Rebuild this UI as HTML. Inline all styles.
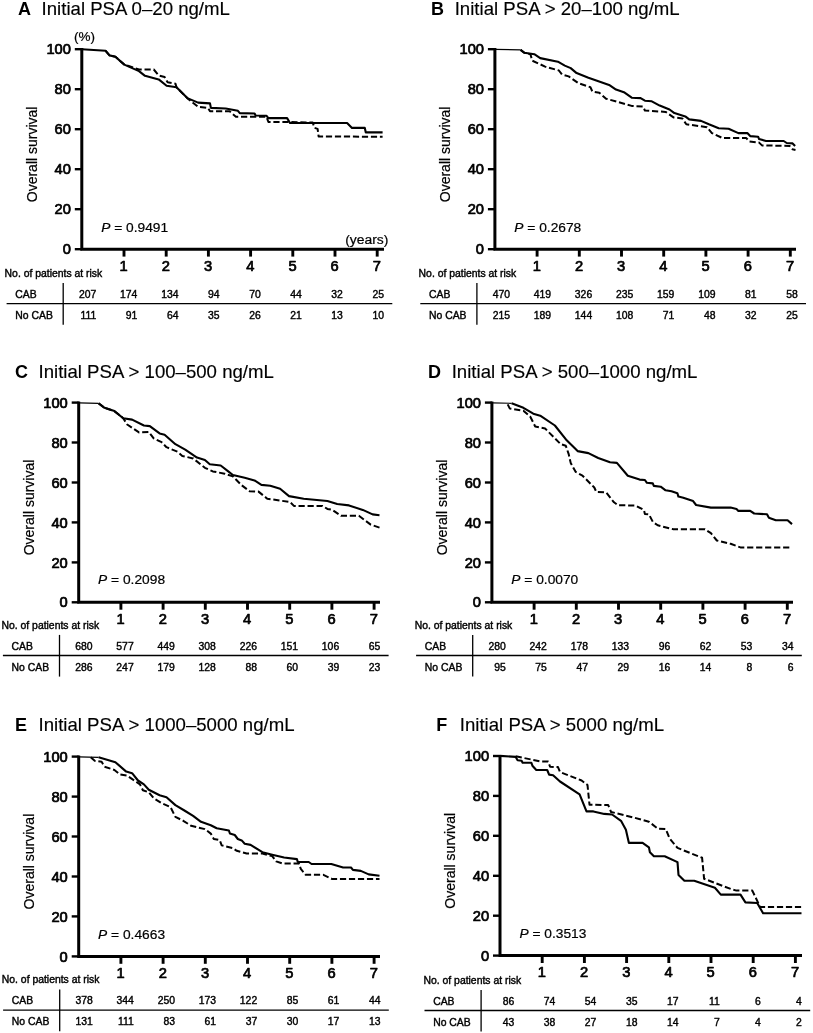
<!DOCTYPE html>
<html lang="en"><head><meta charset="utf-8"><title>Overall survival by initial PSA</title>
<style>html,body{margin:0;padding:0;background:#fff}svg{display:block}text{font-family:"Liberation Sans",Arial,Helvetica,sans-serif;fill:#000}.t{font-size:18px;stroke:#000;stroke-width:.15px}.tb{font-size:18px;font-weight:bold}.k{font-size:14px;stroke:#000;stroke-width:.7px;stroke-linejoin:round}.r{font-size:13.5px;stroke:#000;stroke-width:.2px}.s{font-size:10.4px;stroke:#000;stroke-width:.4px}.ax{stroke:#000;stroke-width:3;fill:none;stroke-linecap:butt}.tk{stroke:#000;stroke-width:2.4;fill:none}.tx{stroke:#000;stroke-width:2.9;fill:none}.ln{stroke:#000;stroke-width:1.3;fill:none}.cs{stroke:#000;stroke-width:2.1;fill:none;stroke-linejoin:round}.cd{stroke:#000;stroke-width:2;fill:none;stroke-dasharray:6.2 2.8;stroke-linejoin:round}</style></head><body>
<svg width="813" height="1033" viewBox="0 0 813 1033">
<rect width="813" height="1033" fill="#fff"/>
<g>
<text class="tb" x="18" y="15.2">A</text>
<text class="t" transform="translate(41.6 15.2) scale(1.035 1)">Initial PSA 0–20 ng/mL</text>
<path class="ax" d="M81.8 48.1V249.2H384"/>
<path class="tk" d="M74.8 249.2H81.8"/>
<text class="k" text-anchor="end" transform="translate(70.9 254.3) scale(1.05 1)">0</text>
<path class="tk" d="M74.8 209.2H81.8"/>
<text class="k" text-anchor="end" transform="translate(70.9 214.3) scale(1.05 1)">20</text>
<path class="tk" d="M74.8 169.2H81.8"/>
<text class="k" text-anchor="end" transform="translate(70.9 174.3) scale(1.05 1)">40</text>
<path class="tk" d="M74.8 129.2H81.8"/>
<text class="k" text-anchor="end" transform="translate(70.9 134.3) scale(1.05 1)">60</text>
<path class="tk" d="M74.8 89.2H81.8"/>
<text class="k" text-anchor="end" transform="translate(70.9 94.3) scale(1.05 1)">80</text>
<path class="tk" d="M74.8 49.2H81.8"/>
<text class="k" text-anchor="end" transform="translate(70.9 54.3) scale(1.05 1)">100</text>
<path class="tx" d="M124 249.2V256.6"/>
<text class="k" text-anchor="middle" transform="translate(123.7 271.4) scale(1.05 1)">1</text>
<path class="tx" d="M166.2 249.2V256.6"/>
<text class="k" text-anchor="middle" transform="translate(165.9 271.4) scale(1.05 1)">2</text>
<path class="tx" d="M208.4 249.2V256.6"/>
<text class="k" text-anchor="middle" transform="translate(208.1 271.4) scale(1.05 1)">3</text>
<path class="tx" d="M250.6 249.2V256.6"/>
<text class="k" text-anchor="middle" transform="translate(250.3 271.4) scale(1.05 1)">4</text>
<path class="tx" d="M292.8 249.2V256.6"/>
<text class="k" text-anchor="middle" transform="translate(292.5 271.4) scale(1.05 1)">5</text>
<path class="tx" d="M335 249.2V256.6"/>
<text class="k" text-anchor="middle" transform="translate(334.7 271.4) scale(1.05 1)">6</text>
<path class="tx" d="M377.2 249.2V256.6"/>
<text class="k" text-anchor="middle" transform="translate(376.9 271.4) scale(1.05 1)">7</text>
<text class="r" style="font-size:14px" text-anchor="middle" transform="translate(36.9 154.4) rotate(-90)">Overall survival</text>
<text class="r" transform="translate(101.2 232) scale(1.02 1)"><tspan font-style="italic">P</tspan> = 0.9491</text>
<text class="r" text-anchor="middle" x="84.5" y="40.8">(%)</text>
<text class="r" text-anchor="end" transform="translate(388.4 244.1) scale(1.03 1)">(years)</text>
<path class="cd" d="M105.6 50.8 109.5 55.4 115.4 56.7 124.3 64.6 139 69.5 153.8 69.5 158.7 75.4 164.6 77 167.6 82.3 175.5 83.7 176.5 87.2 187.3 98.1 198.1 106.9 208 107.9 210 111.3 229.6 111.3 235.9 116.7 266.4 116.7 268.4 122 289 122 312.7 122.6 314.6 127.9 317.6 128.9 318.6 136.4 382.6 136.8"/>
<path class="cs" d="M81.8 49.3 105.6 50.8 109.5 55.4 115.4 56.7 124.3 64.6 139 71.1 145 75.8 158.7 79.4 166.6 85.7 176.5 87.2 187.3 98.1 198.1 102.6 210 103.4 210.9 107.9 225.7 108.5 237.9 110.8 239.8 113.1 254.6 113.5 255.6 115.5 266.4 115.7 268.4 118.1 287.1 118.1 290 123 347.1 123 352 127.9 364.8 127.9 365.8 132.4 382.6 132.4"/>
<text class="s" x="4.6" y="276.7">No. of patients at risk</text>
<text class="s" x="15.3" y="297.7">CAB</text>
<text class="s" x="15.3" y="318.6">No CAB</text>
<path class="ln" d="M6.6 303.6H392.3"/>
<path class="ln" d="M63.2 283V324.7"/>
<text class="s" text-anchor="end" x="96.3" y="297.7">207</text>
<text class="s" text-anchor="end" x="96.3" y="318.6">111</text>
<text class="s" text-anchor="end" x="137.4" y="297.7">174</text>
<text class="s" text-anchor="end" x="137.4" y="318.6">91</text>
<text class="s" text-anchor="end" x="178.5" y="297.7">134</text>
<text class="s" text-anchor="end" x="178.5" y="318.6">64</text>
<text class="s" text-anchor="end" x="219.6" y="297.7">94</text>
<text class="s" text-anchor="end" x="219.6" y="318.6">35</text>
<text class="s" text-anchor="end" x="260.7" y="297.7">70</text>
<text class="s" text-anchor="end" x="260.7" y="318.6">26</text>
<text class="s" text-anchor="end" x="301.8" y="297.7">44</text>
<text class="s" text-anchor="end" x="301.8" y="318.6">21</text>
<text class="s" text-anchor="end" x="342.9" y="297.7">32</text>
<text class="s" text-anchor="end" x="342.9" y="318.6">13</text>
<text class="s" text-anchor="end" x="384" y="297.7">25</text>
<text class="s" text-anchor="end" x="384" y="318.6">10</text>
</g>
<g>
<text class="tb" x="431.1" y="15.2">B</text>
<text class="t" transform="translate(454.7 15.2) scale(1.035 1)">Initial PSA &gt; 20–100 ng/mL</text>
<path class="ax" d="M494.9 48.1V249.2H796"/>
<path class="tk" d="M487.9 249.2H494.9"/>
<text class="k" text-anchor="end" transform="translate(484 254.3) scale(1.05 1)">0</text>
<path class="tk" d="M487.9 209.2H494.9"/>
<text class="k" text-anchor="end" transform="translate(484 214.3) scale(1.05 1)">20</text>
<path class="tk" d="M487.9 169.2H494.9"/>
<text class="k" text-anchor="end" transform="translate(484 174.3) scale(1.05 1)">40</text>
<path class="tk" d="M487.9 129.2H494.9"/>
<text class="k" text-anchor="end" transform="translate(484 134.3) scale(1.05 1)">60</text>
<path class="tk" d="M487.9 89.2H494.9"/>
<text class="k" text-anchor="end" transform="translate(484 94.3) scale(1.05 1)">80</text>
<path class="tk" d="M487.9 49.2H494.9"/>
<text class="k" text-anchor="end" transform="translate(484 54.3) scale(1.05 1)">100</text>
<path class="tx" d="M537.1 249.2V256.6"/>
<text class="k" text-anchor="middle" transform="translate(536.8 271.4) scale(1.05 1)">1</text>
<path class="tx" d="M579.3 249.2V256.6"/>
<text class="k" text-anchor="middle" transform="translate(579 271.4) scale(1.05 1)">2</text>
<path class="tx" d="M621.5 249.2V256.6"/>
<text class="k" text-anchor="middle" transform="translate(621.2 271.4) scale(1.05 1)">3</text>
<path class="tx" d="M663.7 249.2V256.6"/>
<text class="k" text-anchor="middle" transform="translate(663.4 271.4) scale(1.05 1)">4</text>
<path class="tx" d="M705.9 249.2V256.6"/>
<text class="k" text-anchor="middle" transform="translate(705.6 271.4) scale(1.05 1)">5</text>
<path class="tx" d="M748.1 249.2V256.6"/>
<text class="k" text-anchor="middle" transform="translate(747.8 271.4) scale(1.05 1)">6</text>
<path class="tx" d="M790.3 249.2V256.6"/>
<text class="k" text-anchor="middle" transform="translate(790 271.4) scale(1.05 1)">7</text>
<text class="r" style="font-size:14px" text-anchor="middle" transform="translate(450 154.4) rotate(-90)">Overall survival</text>
<text class="r" transform="translate(514.3 232) scale(1.02 1)"><tspan font-style="italic">P</tspan> = 0.2678</text>
<path class="cd" d="M520.5 49.8 524.4 52.8 530.4 54.2 532.3 60.7 545.1 66.6 558.9 70.5 561.9 74.4 568.7 76.4 578.6 83.3 590.4 87.2 592.4 91.6 599.3 92.8 606.1 98.7 618 102 631.7 105.9 643 106.6 644.9 110.5 665.6 111.9 673.5 117.4 682.3 118.4 686.3 124.3 706.9 127.2 711.9 133.1 722.7 138.1 746.3 138.1 749.3 141.4 759.1 142.6 762 145.4 789.6 145.9 792.6 149.3 795.5 149.9"/>
<path class="cs" style="stroke-width:1.2" d="M494.9 49.3L520.5 49.8"/>
<path class="cs" d="M520.5 49.8 524.4 52.8 534.3 54.2 540.2 58.1 557.9 61.7 564.8 65.6 570.7 68.1 576.6 73.1 588.4 77.8 596.3 80.4 609.1 84.9 616 89.6 623.9 92.2 631.7 97.7 640.6 98.1 644.9 100.7 651.8 101.3 659.7 105.6 669.5 109.5 674.4 113.1 685.3 116.4 689.2 119.4 701 120.9 708.9 124.3 718.7 128.2 728.6 128.8 738.4 133.1 747.3 133.1 750.2 136.1 758.1 136.7 759.1 139.1 766 141 783.7 141 786.7 143 792.6 143.4 795.1 146"/>
<text class="s" x="418.6" y="276.7">No. of patients at risk</text>
<text class="s" x="429" y="297.7">CAB</text>
<text class="s" x="429" y="318.6">No CAB</text>
<path class="ln" d="M420.3 303.6H806"/>
<path class="ln" d="M476.9 283V324.7"/>
<text class="s" text-anchor="end" x="510" y="297.7">470</text>
<text class="s" text-anchor="end" x="510" y="318.6">215</text>
<text class="s" text-anchor="end" x="551.1" y="297.7">419</text>
<text class="s" text-anchor="end" x="551.1" y="318.6">189</text>
<text class="s" text-anchor="end" x="592.2" y="297.7">326</text>
<text class="s" text-anchor="end" x="592.2" y="318.6">144</text>
<text class="s" text-anchor="end" x="633.3" y="297.7">235</text>
<text class="s" text-anchor="end" x="633.3" y="318.6">108</text>
<text class="s" text-anchor="end" x="674.4" y="297.7">159</text>
<text class="s" text-anchor="end" x="674.4" y="318.6">71</text>
<text class="s" text-anchor="end" x="715.5" y="297.7">109</text>
<text class="s" text-anchor="end" x="715.5" y="318.6">48</text>
<text class="s" text-anchor="end" x="756.6" y="297.7">81</text>
<text class="s" text-anchor="end" x="756.6" y="318.6">32</text>
<text class="s" text-anchor="end" x="797.7" y="297.7">58</text>
<text class="s" text-anchor="end" x="797.7" y="318.6">25</text>
</g>
<g>
<text class="tb" x="14.9" y="378">C</text>
<text class="t" transform="translate(38.5 378) scale(1.035 1)">Initial PSA &gt; 100–500 ng/mL</text>
<path class="ax" d="M78.7 401.5V602.3H380"/>
<path class="tk" d="M71.7 602.3H78.7"/>
<text class="k" text-anchor="end" transform="translate(67.8 607.4) scale(1.05 1)">0</text>
<path class="tk" d="M71.7 562.4H78.7"/>
<text class="k" text-anchor="end" transform="translate(67.8 567.5) scale(1.05 1)">20</text>
<path class="tk" d="M71.7 522.4H78.7"/>
<text class="k" text-anchor="end" transform="translate(67.8 527.5) scale(1.05 1)">40</text>
<path class="tk" d="M71.7 482.5H78.7"/>
<text class="k" text-anchor="end" transform="translate(67.8 487.6) scale(1.05 1)">60</text>
<path class="tk" d="M71.7 442.5H78.7"/>
<text class="k" text-anchor="end" transform="translate(67.8 447.6) scale(1.05 1)">80</text>
<path class="tk" d="M71.7 402.6H78.7"/>
<text class="k" text-anchor="end" transform="translate(67.8 407.7) scale(1.05 1)">100</text>
<path class="tx" d="M120.9 602.3V609.7"/>
<text class="k" text-anchor="middle" transform="translate(120.6 623.5) scale(1.05 1)">1</text>
<path class="tx" d="M163.1 602.3V609.7"/>
<text class="k" text-anchor="middle" transform="translate(162.8 623.5) scale(1.05 1)">2</text>
<path class="tx" d="M205.3 602.3V609.7"/>
<text class="k" text-anchor="middle" transform="translate(205 623.5) scale(1.05 1)">3</text>
<path class="tx" d="M247.5 602.3V609.7"/>
<text class="k" text-anchor="middle" transform="translate(247.2 623.5) scale(1.05 1)">4</text>
<path class="tx" d="M289.7 602.3V609.7"/>
<text class="k" text-anchor="middle" transform="translate(289.4 623.5) scale(1.05 1)">5</text>
<path class="tx" d="M331.9 602.3V609.7"/>
<text class="k" text-anchor="middle" transform="translate(331.6 623.5) scale(1.05 1)">6</text>
<path class="tx" d="M374.1 602.3V609.7"/>
<text class="k" text-anchor="middle" transform="translate(373.8 623.5) scale(1.05 1)">7</text>
<text class="r" style="font-size:14px" text-anchor="middle" transform="translate(33.8 507.5) rotate(-90)">Overall survival</text>
<text class="r" transform="translate(98.1 583.9) scale(1.02 1)"><tspan font-style="italic">P</tspan> = 0.2098</text>
<path class="cd" d="M98.6 403.3 104.5 407.8 114.4 411.1 123.2 418.2 127.2 424.5 139 432.4 148.8 432 153.7 438.3 161.6 442.2 166.5 447.2 177.4 451.7 182.3 456 193.1 458.4 204.9 467.8 212.8 471.4 224.6 473.7 232.9 476.4 241.7 485.3 249.6 491.2 258.5 491.6 267.3 498.7 290 502 293.9 505.9 322.4 505.9 327.4 508.9 332.3 509.9 341.1 515.8 358.9 515.8 370.7 524.6 379.5 527.6"/>
<path class="cs" style="stroke-width:1.2" d="M78.9 402.9L98.6 403.3"/>
<path class="cs" d="M98.6 403.3 104.5 407.8 114.4 411.1 123.2 418.2 132.1 419.6 143.9 425.5 149.8 426.1 159.6 433.4 164.6 434.8 175.4 444.2 185.2 449.7 197 457.6 204.9 460 209.8 464.3 220.7 465.5 227.6 470.8 232.9 475 244.7 477.8 254.5 480.4 261.4 484.9 270.3 485.7 280.1 488.8 289 496.1 303.7 498.7 327.4 501 337.2 504 349 505.4 362.8 509.9 372.6 514.4 379.5 515.2"/>
<text class="s" x="1.5" y="628.6">No. of patients at risk</text>
<text class="s" x="11.6" y="649.6">CAB</text>
<text class="s" x="11.6" y="670.5">No CAB</text>
<path class="ln" d="M2.9 655.5H388.6"/>
<path class="ln" d="M59.5 634.9V676.6"/>
<text class="s" text-anchor="end" x="92.6" y="649.6">680</text>
<text class="s" text-anchor="end" x="92.6" y="670.5">286</text>
<text class="s" text-anchor="end" x="133.7" y="649.6">577</text>
<text class="s" text-anchor="end" x="133.7" y="670.5">247</text>
<text class="s" text-anchor="end" x="174.8" y="649.6">449</text>
<text class="s" text-anchor="end" x="174.8" y="670.5">179</text>
<text class="s" text-anchor="end" x="215.9" y="649.6">308</text>
<text class="s" text-anchor="end" x="215.9" y="670.5">128</text>
<text class="s" text-anchor="end" x="257" y="649.6">226</text>
<text class="s" text-anchor="end" x="257" y="670.5">88</text>
<text class="s" text-anchor="end" x="298.1" y="649.6">151</text>
<text class="s" text-anchor="end" x="298.1" y="670.5">60</text>
<text class="s" text-anchor="end" x="339.2" y="649.6">106</text>
<text class="s" text-anchor="end" x="339.2" y="670.5">39</text>
<text class="s" text-anchor="end" x="380.3" y="649.6">65</text>
<text class="s" text-anchor="end" x="380.3" y="670.5">23</text>
</g>
<g>
<text class="tb" x="428.1" y="378">D</text>
<text class="t" transform="translate(451.7 378) scale(1.035 1)">Initial PSA &gt; 500–1000 ng/mL</text>
<path class="ax" d="M491.9 401.5V602.3H793"/>
<path class="tk" d="M484.9 602.3H491.9"/>
<text class="k" text-anchor="end" transform="translate(481 607.4) scale(1.05 1)">0</text>
<path class="tk" d="M484.9 562.4H491.9"/>
<text class="k" text-anchor="end" transform="translate(481 567.5) scale(1.05 1)">20</text>
<path class="tk" d="M484.9 522.4H491.9"/>
<text class="k" text-anchor="end" transform="translate(481 527.5) scale(1.05 1)">40</text>
<path class="tk" d="M484.9 482.5H491.9"/>
<text class="k" text-anchor="end" transform="translate(481 487.6) scale(1.05 1)">60</text>
<path class="tk" d="M484.9 442.5H491.9"/>
<text class="k" text-anchor="end" transform="translate(481 447.6) scale(1.05 1)">80</text>
<path class="tk" d="M484.9 402.6H491.9"/>
<text class="k" text-anchor="end" transform="translate(481 407.7) scale(1.05 1)">100</text>
<path class="tx" d="M534.1 602.3V609.7"/>
<text class="k" text-anchor="middle" transform="translate(533.8 623.5) scale(1.05 1)">1</text>
<path class="tx" d="M576.3 602.3V609.7"/>
<text class="k" text-anchor="middle" transform="translate(576 623.5) scale(1.05 1)">2</text>
<path class="tx" d="M618.5 602.3V609.7"/>
<text class="k" text-anchor="middle" transform="translate(618.2 623.5) scale(1.05 1)">3</text>
<path class="tx" d="M660.7 602.3V609.7"/>
<text class="k" text-anchor="middle" transform="translate(660.4 623.5) scale(1.05 1)">4</text>
<path class="tx" d="M702.9 602.3V609.7"/>
<text class="k" text-anchor="middle" transform="translate(702.6 623.5) scale(1.05 1)">5</text>
<path class="tx" d="M745.1 602.3V609.7"/>
<text class="k" text-anchor="middle" transform="translate(744.8 623.5) scale(1.05 1)">6</text>
<path class="tx" d="M787.3 602.3V609.7"/>
<text class="k" text-anchor="middle" transform="translate(787 623.5) scale(1.05 1)">7</text>
<text class="r" style="font-size:14px" text-anchor="middle" transform="translate(447 507.5) rotate(-90)">Overall survival</text>
<text class="r" transform="translate(511.3 583.9) scale(1.02 1)"><tspan font-style="italic">P</tspan> = 0.0070</text>
<path class="cd" d="M507.7 404.4 509.7 408.4 523.4 410.7 530.3 416.7 535.2 426.5 545.1 428.5 560.8 444.2 565.8 445.8 568.7 454.1 570.7 462.9 575.6 471.8 582.5 475.7 594.3 487.5 596.3 491.9 606.1 492.4 614 502.3 617.9 505.2 635.6 505.6 643.9 510 644.9 513.9 648.9 514.3 652.8 521.8 657.7 525.3 673.5 529.3 705 529.3 710.9 533.2 716.8 540.5 730.6 543.8 740.4 547.4 792 547.4"/>
<path class="cs" style="stroke-width:1.2" d="M491.9 402.9L511.6 403.3"/>
<path class="cs" d="M511.6 403.3 523.4 407.8 533.3 413.7 540.2 415.7 554.9 425.5 566.7 440.3 577.6 451.1 588.4 453.1 598.2 458 610 462.3 616.9 462.9 627.8 475.7 639.6 479.6 644.9 480 646.9 482.8 652.8 483.4 653.8 485.9 660.7 486.7 665.6 490.3 671.5 491.3 677.4 493.2 678.4 496.6 683.3 497.8 693.1 501.1 696.1 505 710.9 507.6 730.6 507.6 736.5 509 738.4 510.9 750.2 510.9 754.2 513.5 767 514.3 768.9 517.8 775.8 520.2 787.6 520.2 792 524.1"/>
<text class="s" x="414.7" y="628.6">No. of patients at risk</text>
<text class="s" x="424.8" y="649.6">CAB</text>
<text class="s" x="424.8" y="670.5">No CAB</text>
<path class="ln" d="M416.1 655.5H801.8"/>
<path class="ln" d="M472.7 634.9V676.6"/>
<text class="s" text-anchor="end" x="505.8" y="649.6">280</text>
<text class="s" text-anchor="end" x="505.8" y="670.5">95</text>
<text class="s" text-anchor="end" x="546.9" y="649.6">242</text>
<text class="s" text-anchor="end" x="546.9" y="670.5">75</text>
<text class="s" text-anchor="end" x="588" y="649.6">178</text>
<text class="s" text-anchor="end" x="588" y="670.5">47</text>
<text class="s" text-anchor="end" x="629.1" y="649.6">133</text>
<text class="s" text-anchor="end" x="629.1" y="670.5">29</text>
<text class="s" text-anchor="end" x="670.2" y="649.6">96</text>
<text class="s" text-anchor="end" x="670.2" y="670.5">16</text>
<text class="s" text-anchor="end" x="711.3" y="649.6">62</text>
<text class="s" text-anchor="end" x="711.3" y="670.5">14</text>
<text class="s" text-anchor="end" x="752.4" y="649.6">53</text>
<text class="s" text-anchor="end" x="752.4" y="670.5">8</text>
<text class="s" text-anchor="end" x="793.5" y="649.6">34</text>
<text class="s" text-anchor="end" x="793.5" y="670.5">6</text>
</g>
<g>
<text class="tb" x="14.9" y="731.1">E</text>
<text class="t" transform="translate(38.5 731.1) scale(1.035 1)">Initial PSA &gt; 1000–5000 ng/mL</text>
<path class="ax" d="M78.7 755.5V956.4H380"/>
<path class="tk" d="M71.7 956.4H78.7"/>
<text class="k" text-anchor="end" transform="translate(67.8 961.5) scale(1.05 1)">0</text>
<path class="tk" d="M71.7 916.4H78.7"/>
<text class="k" text-anchor="end" transform="translate(67.8 921.5) scale(1.05 1)">20</text>
<path class="tk" d="M71.7 876.5H78.7"/>
<text class="k" text-anchor="end" transform="translate(67.8 881.6) scale(1.05 1)">40</text>
<path class="tk" d="M71.7 836.5H78.7"/>
<text class="k" text-anchor="end" transform="translate(67.8 841.6) scale(1.05 1)">60</text>
<path class="tk" d="M71.7 796.6H78.7"/>
<text class="k" text-anchor="end" transform="translate(67.8 801.7) scale(1.05 1)">80</text>
<path class="tk" d="M71.7 756.6H78.7"/>
<text class="k" text-anchor="end" transform="translate(67.8 761.7) scale(1.05 1)">100</text>
<path class="tx" d="M120.9 956.4V963.8"/>
<text class="k" text-anchor="middle" transform="translate(120.6 978.1) scale(1.05 1)">1</text>
<path class="tx" d="M163.1 956.4V963.8"/>
<text class="k" text-anchor="middle" transform="translate(162.8 978.1) scale(1.05 1)">2</text>
<path class="tx" d="M205.3 956.4V963.8"/>
<text class="k" text-anchor="middle" transform="translate(205 978.1) scale(1.05 1)">3</text>
<path class="tx" d="M247.5 956.4V963.8"/>
<text class="k" text-anchor="middle" transform="translate(247.2 978.1) scale(1.05 1)">4</text>
<path class="tx" d="M289.7 956.4V963.8"/>
<text class="k" text-anchor="middle" transform="translate(289.4 978.1) scale(1.05 1)">5</text>
<path class="tx" d="M331.9 956.4V963.8"/>
<text class="k" text-anchor="middle" transform="translate(331.6 978.1) scale(1.05 1)">6</text>
<path class="tx" d="M374.1 956.4V963.8"/>
<text class="k" text-anchor="middle" transform="translate(373.8 978.1) scale(1.05 1)">7</text>
<text class="r" style="font-size:14px" text-anchor="middle" transform="translate(33.8 861.6) rotate(-90)">Overall survival</text>
<text class="r" transform="translate(98.1 938.5) scale(1.02 1)"><tspan font-style="italic">P</tspan> = 0.4663</text>
<path class="cd" d="M90.7 757.3 94.7 760.8 101.6 761.8 104.5 766.7 114.4 770 120.3 774.6 127.2 775.6 140 784.4 142.9 790.3 148.8 792.3 153.7 798.2 161.6 803.1 170.5 807.1 175.4 816.9 183.3 820.8 191.1 825.8 204.9 829.1 210.8 833.6 213.8 838.9 219.7 840.1 221.7 845.4 232.5 848 236.8 850.8 246.7 853.5 262.4 853.5 272.2 856.1 276.2 861.4 282.1 863.4 298.8 863.4 300.8 868.9 305.7 874.8 323.4 874.8 332.3 879.1 379.5 879.1"/>
<path class="cs" style="stroke-width:1.2" d="M78.9 756.9L98.6 757.3"/>
<path class="cs" d="M98.6 757.3 115.4 762.2 126.2 771.6 132.1 773.2 138 780.5 143.9 784.4 148.8 789.7 159.6 795.2 166.5 797.2 175.4 805.1 185.2 811 193.1 815.9 201 821.8 210.8 825.2 216.7 828.3 228.9 830.5 229.9 833.5 234.8 835 237.8 839 241.7 840.4 244.7 843.7 250.6 844.9 262.4 852.2 272.2 854.7 284.1 857.5 296.9 859.1 297.8 862 308.7 862 311.6 864 331.3 864 343.1 867.5 351 867.5 352.9 869.9 360.8 870.9 368.7 874.4 379.5 875.8"/>
<text class="s" x="1.8" y="983.3">No. of patients at risk</text>
<text class="s" x="11.8" y="1004.3">CAB</text>
<text class="s" x="11.8" y="1025.2">No CAB</text>
<path class="ln" d="M3.1 1010.2H388.8"/>
<path class="ln" d="M59.7 989.6V1031.3"/>
<text class="s" text-anchor="end" x="92.8" y="1004.3">378</text>
<text class="s" text-anchor="end" x="92.8" y="1025.2">131</text>
<text class="s" text-anchor="end" x="133.9" y="1004.3">344</text>
<text class="s" text-anchor="end" x="133.9" y="1025.2">111</text>
<text class="s" text-anchor="end" x="175" y="1004.3">250</text>
<text class="s" text-anchor="end" x="175" y="1025.2">83</text>
<text class="s" text-anchor="end" x="216.1" y="1004.3">173</text>
<text class="s" text-anchor="end" x="216.1" y="1025.2">61</text>
<text class="s" text-anchor="end" x="257.2" y="1004.3">122</text>
<text class="s" text-anchor="end" x="257.2" y="1025.2">37</text>
<text class="s" text-anchor="end" x="298.3" y="1004.3">85</text>
<text class="s" text-anchor="end" x="298.3" y="1025.2">30</text>
<text class="s" text-anchor="end" x="339.4" y="1004.3">61</text>
<text class="s" text-anchor="end" x="339.4" y="1025.2">17</text>
<text class="s" text-anchor="end" x="380.5" y="1004.3">44</text>
<text class="s" text-anchor="end" x="380.5" y="1025.2">13</text>
</g>
<g>
<text class="tb" x="436.2" y="731.1">F</text>
<text class="t" transform="translate(459.8 731.1) scale(1.035 1)">Initial PSA &gt; 5000 ng/mL</text>
<path class="ax" d="M500 754.9V955.6H802"/>
<path class="tk" d="M493 955.6H500"/>
<text class="k" text-anchor="end" transform="translate(489.1 960.7) scale(1.05 1)">0</text>
<path class="tk" d="M493 915.7H500"/>
<text class="k" text-anchor="end" transform="translate(489.1 920.8) scale(1.05 1)">20</text>
<path class="tk" d="M493 875.8H500"/>
<text class="k" text-anchor="end" transform="translate(489.1 880.9) scale(1.05 1)">40</text>
<path class="tk" d="M493 835.8H500"/>
<text class="k" text-anchor="end" transform="translate(489.1 840.9) scale(1.05 1)">60</text>
<path class="tk" d="M493 795.9H500"/>
<text class="k" text-anchor="end" transform="translate(489.1 801) scale(1.05 1)">80</text>
<path class="tk" d="M493 756H500"/>
<text class="k" text-anchor="end" transform="translate(489.1 761.1) scale(1.05 1)">100</text>
<path class="tx" d="M542.2 955.6V963"/>
<text class="k" text-anchor="middle" transform="translate(541.9 976.6) scale(1.05 1)">1</text>
<path class="tx" d="M584.4 955.6V963"/>
<text class="k" text-anchor="middle" transform="translate(584.1 976.6) scale(1.05 1)">2</text>
<path class="tx" d="M626.6 955.6V963"/>
<text class="k" text-anchor="middle" transform="translate(626.3 976.6) scale(1.05 1)">3</text>
<path class="tx" d="M668.8 955.6V963"/>
<text class="k" text-anchor="middle" transform="translate(668.5 976.6) scale(1.05 1)">4</text>
<path class="tx" d="M711 955.6V963"/>
<text class="k" text-anchor="middle" transform="translate(710.7 976.6) scale(1.05 1)">5</text>
<path class="tx" d="M753.2 955.6V963"/>
<text class="k" text-anchor="middle" transform="translate(752.9 976.6) scale(1.05 1)">6</text>
<path class="tx" d="M795.4 955.6V963"/>
<text class="k" text-anchor="middle" transform="translate(795.1 976.6) scale(1.05 1)">7</text>
<text class="r" style="font-size:14px" text-anchor="middle" transform="translate(455.1 860.8) rotate(-90)">Overall survival</text>
<text class="r" transform="translate(519.4 938.4) scale(1.02 1)"><tspan font-style="italic">P</tspan> = 0.3513</text>
<path class="cd" d="M515.7 756.3 540.3 761.4 548.1 761.4 550.1 766.7 558 767.1 560 772 581.6 780.5 587.5 785 589.5 804.7 608.2 805.1 611.1 812 632.8 817.3 648.9 821.7 657.8 828.6 665.7 829 669.6 838.5 677.5 847.9 702.1 857.8 704.1 878.8 731.6 889.3 736.5 890.6 752.3 890.6 760.2 907 801.5 907"/>
<path class="cs" d="M499.9 755.9 515.7 756.9 517.6 760.2 521.6 760.8 522.6 762.8 531.4 762.8 532.4 765.7 536.3 770 547.2 770 549.1 774.6 553.1 775.2 560 781.5 579.6 794.3 586.5 811.4 593.4 811.4 604.3 813.9 612.1 814.5 621 820.8 625.9 829.7 628.9 842.9 642.6 842.9 648.9 847.3 649.9 852.2 653.9 856.2 664.7 856.2 677.5 862.1 678.5 874.9 684.4 880.8 694.2 880.8 714.9 887.7 720.8 894.6 740.5 894.6 745.4 902.4 757.2 903 763.1 913.3 801.5 913.3"/>
<text class="s" x="423.5" y="983.6">No. of patients at risk</text>
<text class="s" x="433.2" y="1004.6">CAB</text>
<text class="s" x="433.2" y="1025.5">No CAB</text>
<path class="ln" d="M424.5 1010.5H810.2"/>
<path class="ln" d="M481.1 989.9V1031.6"/>
<text class="s" text-anchor="end" x="514.2" y="1004.6">86</text>
<text class="s" text-anchor="end" x="514.2" y="1025.5">43</text>
<text class="s" text-anchor="end" x="555.3" y="1004.6">74</text>
<text class="s" text-anchor="end" x="555.3" y="1025.5">38</text>
<text class="s" text-anchor="end" x="596.4" y="1004.6">54</text>
<text class="s" text-anchor="end" x="596.4" y="1025.5">27</text>
<text class="s" text-anchor="end" x="637.5" y="1004.6">35</text>
<text class="s" text-anchor="end" x="637.5" y="1025.5">18</text>
<text class="s" text-anchor="end" x="678.6" y="1004.6">17</text>
<text class="s" text-anchor="end" x="678.6" y="1025.5">14</text>
<text class="s" text-anchor="end" x="719.7" y="1004.6">11</text>
<text class="s" text-anchor="end" x="719.7" y="1025.5">7</text>
<text class="s" text-anchor="end" x="760.8" y="1004.6">6</text>
<text class="s" text-anchor="end" x="760.8" y="1025.5">4</text>
<text class="s" text-anchor="end" x="801.9" y="1004.6">4</text>
<text class="s" text-anchor="end" x="801.9" y="1025.5">2</text>
</g>
</svg></body></html>
